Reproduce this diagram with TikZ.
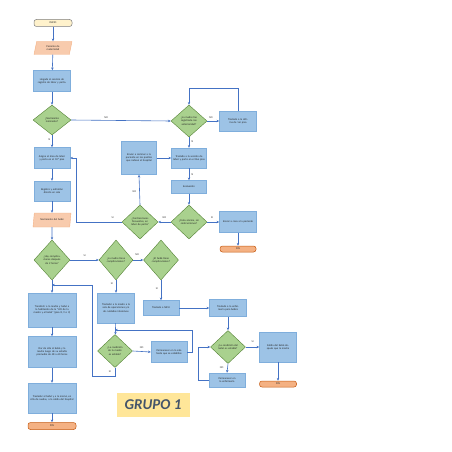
\documentclass[tikz,border=0pt]{standalone}
\usepackage{fontspec}
\setmainfont{Carlito}
\usetikzlibrary{shapes.geometric,arrows.meta}
\definecolor{boxblue}{HTML}{9DC3E6}
\definecolor{boxedge}{HTML}{7FAEDC}
\definecolor{decgreen}{HTML}{A9D18E}
\definecolor{decedge}{HTML}{548235}
\definecolor{iofill}{HTML}{F8CBAD}
\definecolor{ioedge}{HTML}{F4B183}
\definecolor{finfill}{HTML}{F4B183}
\definecolor{finedge}{HTML}{C55A11}
\definecolor{inifill}{HTML}{FFF2CC}
\definecolor{iniedge}{HTML}{7F7F7F}
\definecolor{arrowc}{HTML}{4472C4}
\definecolor{grupofill}{HTML}{FFE699}
\definecolor{grupotext}{HTML}{44546A}
\tikzset{
  tx/.style={font=\fontsize{2.7}{3.2}\selectfont, text=black!85},
  proc/.style={tx, rectangle, fill=boxblue, draw=boxedge, line width=0.4pt, inner sep=0.5pt, align=center},
  dec/.style={tx, diamond, fill=decgreen, draw=decedge, line width=0.4pt, inner sep=0pt, align=center},
  io/.style={tx, trapezium, trapezium left angle=70, trapezium right angle=110, trapezium stretches=true, fill=iofill, draw=ioedge, line width=0.4pt, inner sep=0.5pt, align=center},
  term/.style={tx, rectangle, rounded corners=2.5pt, line width=0.5pt, inner sep=0pt, align=center},
  fin/.style={term, fill=finfill, draw=finedge},
  ini/.style={term, fill=inifill, draw=iniedge},
  ar/.style={draw=arrowc, line width=0.6pt, -{Stealth[length=2.8pt,width=2.4pt]}},
  ln/.style={draw=arrowc, line width=0.6pt},
  lbl/.style={font=\fontsize{2.7}{3}\selectfont, text=black!80, inner sep=0pt}
}
\begin{document}
\begin{tikzpicture}[x=1pt,y=-1pt]
\useasboundingbox (0,0) rectangle (452,452);
\fill[white] (0,0) rectangle (452,452);
% left column
\node[ini, minimum width=38, minimum height=7] (inicio) at (53,23) {INICIO};
\node[io, minimum width=38, minimum height=13, text width=26] (pac) at (53,48) {Paciente de maternidad};
\node[proc, minimum width=37, minimum height=21, text width=34] (lleg) at (52,81) {Llegada al servicio de registro de labor y parto.};
\node[dec, minimum width=38, minimum height=30, text width=20] (d1) at (52,120) {¿Nacimiento inminente?};
\node[proc, minimum width=36, minimum height=21, text width=33] (asig) at (52,158) {Asigna el área de labor y parto en el 10º piso};
\node[proc, minimum width=36, minimum height=20, text width=30] (reg) at (52,191) {Registro y admisión directa en sala};
\node[io, minimum width=38, minimum height=14, text width=28] (nac) at (52,220) {Nacimiento del bebé};
\node[dec, minimum width=36, minimum height=40, text width=22] (d5) at (52,260) {¿Hay complicaciones después de 2 horas?};
\node[proc, minimum width=48, minimum height=34, text width=44] (trf) at (52,310) {Transferir a la madre y bebé a la habitación de la “UCI de la madre y el bebé” (piso 8, 9 o 3)};
\node[proc, minimum width=48, minimum height=31, text width=44] (alta) at (52,352) {Dar de alta al bebé y la madre luego de su estadía promedio de 48 a 60 horas};
\node[proc, minimum width=48, minimum height=30, text width=44] (tbm) at (52,398) {Trasladar al bebé y a la mamá, en silla de ruedas, a la salida del hospital};
\node[fin, minimum width=48, minimum height=7] (fin2) at (52,426) {FIN};
% upper right part
\node[dec, minimum width=36, minimum height=32, text width=21] (d2) at (189,121) {¿La madre fue registrada con anterioridad?};
\node[proc, minimum width=37, minimum height=20, text width=33] (ofi) at (238,121) {Traslado a la oficina de 1er piso};
\node[proc, minimum width=35, minimum height=20, text width=33] (sec) at (189,158) {Traslado a la sección de labor y parto en el 8vo piso};
\node[proc, minimum width=35, minimum height=33, text width=30] (cam) at (139,158) {Enviar a caminar a la paciente en los pasillos que rodean el hospital};
\node[proc, minimum width=35, minimum height=13, text width=33] (eval) at (189,187) {Evaluación};
\node[dec, minimum width=36, minimum height=34, text width=22] (d3) at (189,222) {¿Falsa alarma, sin contracciones?};
\node[dec, minimum width=36, minimum height=34, text width=22] (d4) at (140,222) {¿Contracciones frecuentes, en labor de parto?};
\node[proc, minimum width=37, minimum height=21, text width=34] (casa) at (238,222) {Enviar a casa a la paciente};
\node[fin, minimum width=36, minimum height=6] (fin1) at (238,249) {FIN};
% lower part
\node[dec, minimum width=34, minimum height=40, text width=21] (d6) at (116,260) {¿La madre tiene complicaciones?};
\node[dec, minimum width=35, minimum height=40, text width=21] (d7) at (161,260) {¿El bebé tiene complicaciones?};
\node[proc, minimum width=37, minimum height=30, text width=33] (tsala) at (116,308) {Trasladar a la madre a la sala de operaciones y/o de cuidados intensivos};
\node[proc, minimum width=36, minimum height=15, text width=33] (nicu) at (161,308) {Traslado a NICU};
\node[proc, minimum width=37, minimum height=17, text width=34] (enf) at (228,308) {Traslado a la enfermería para bebés};
\node[dec, minimum width=35, minimum height=33, text width=21] (d8) at (115,351) {¿La condición de la madre es estable?};
\node[proc, minimum width=36, minimum height=21, text width=32] (perm) at (169,352) {Permanecer en la sala hasta que se estabilice};
\node[dec, minimum width=35, minimum height=33, text width=21] (d9) at (228,347) {¿La condición del bebé es estable?};
\node[proc, minimum width=37, minimum height=30, text width=33] (sal) at (278,347) {Salida del bebé después que la madre};
\node[fin, minimum width=37, minimum height=6] (fin3) at (278,384) {FIN};
\node[proc, minimum width=36, minimum height=14, text width=32] (penf) at (227,380) {Permanecer en la enfermería};
\node[rectangle, fill=grupofill, minimum width=73, minimum height=24, inner sep=0pt, font=\fontsize{15}{15}\selectfont\bfseries\itshape, text=grupotext] (grupo) at (153,405) {GRUPO 1};
% junction coordinates
\coordinate (j1) at (52,285);
\coordinate (j2) at (115,330);
% connectors
\draw[ar] (inicio) -- (pac);
\draw[ar] (pac) -- (lleg);
\draw[ar] (lleg) -- (d1);
\draw[ar] (d1) -- node[lbl, pos=0.4, left=1.5] {SI} (asig);
\draw[ar] (d1.east) -- node[lbl, pos=0.35, above=2] {NO} (d2.west);
\draw[ar] (d2.east) -- node[lbl, pos=0.3, above=2] {NO} (ofi.west);
\draw[ar] (ofi.north) |- (189,88) -- (d2.north);
\draw[ar] (d2.south) -- node[lbl, pos=0.45, right=2] {SI} (sec.north);
\draw[ar] (sec) -- node[lbl, right=2] {SI} (eval);
\draw[ar] (eval) -- (d3);
\draw[ar] (d3.east) -- node[lbl, pos=0.4, above=3] {SI} (casa.west);
\draw[ar] (casa) -- (fin1);
\draw[ar] (d3.west) -- node[lbl, pos=0.5, above=3] {NO} (d4.east);
\draw[ar] (d4.north) -- node[lbl, pos=0.45, left=3] {NO} (cam.south);
\draw[ar] (cam.east) -- (sec.west);
\draw[ar] (d4.west) -- node[lbl, pos=0.2, above=3] {SI} (76,222) -- (76,158) -- (asig.east);
\draw[ar] (asig) -- (reg);
\draw[ar] (reg) -- (nac);
\draw[ar] (nac) -- (d5);
\draw[ar] (d5.east) -- node[lbl, pos=0.5, above=3] {SI} (d6.west);
\draw[ar] (d6.east) -- node[lbl, pos=0.4, above=4] {NO} (d7.west);
\draw[ar] (d5.south) -- (trf.north);
\draw[ar] (trf) -- (alta);
\draw[ar] (alta) -- (tbm);
\draw[ar] (tbm) -- (fin2);
\draw[ar] (d6.south) -- node[lbl, pos=0.3, left=3] {SI} (tsala.north);
\draw[ar] (tsala) -- (d8);
\draw[ar] (d8.east) -- node[lbl, pos=0.5, above=3] {NO} (perm.west);
\draw[ar] (perm.east) -- (192,352) -- (192,330) -- (j2);
\draw[ar] (d8.south) -- (115,376) node[lbl, pos=0.5, left=4] {SI} -- (92,376) -- (92,285) -- (j1);
\draw[ar] (d7.south) -- node[lbl, pos=0.4, left=3] {SI} (nicu.north);
\draw[ar] (nicu.east) -- (enf.west);
\draw[ar] (enf) -- (d9);
\draw[ar] (d9.east) -- node[lbl, pos=0.5, above=4] {SI} (sal.west);
\draw[ar] (sal) -- (fin3);
\draw[ar] (d9.south) -- node[lbl, pos=0.4, left=4] {NO} (penf.north);
\draw[ar] (penf.west) -- (198,380) -- (198,347) -- (d9.west);
\end{tikzpicture}
\end{document}
